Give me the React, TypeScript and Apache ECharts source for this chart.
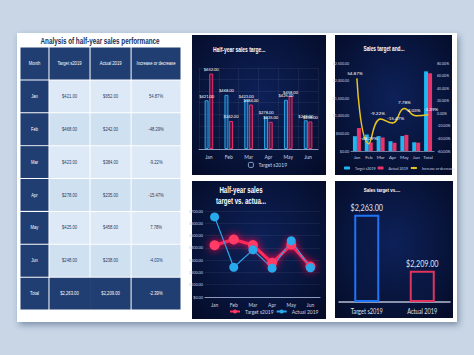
import React, { useEffect, useRef } from 'react';
import * as echarts from 'echarts';

const months = ['Jan', 'Feb', 'Mar', 'Apr', 'May', 'Jun'];
const target2019 = [421, 468, 423, 278, 425, 248];
const actual2019 = [652, 242, 384, 235, 458, 238];
const changePct = [54.87, -48.29, -9.22, -15.47, 7.78, -4.03];
const totalTarget = 2263;
const totalActual = 2209;
const totalChangePct = -2.39;
const tableHeaders = ['Month', 'Target s2019', 'Actual 2019', 'Increase or decrease'];
const totalLabel = 'Total';
const compareCategories = ['Target s2019', 'Actual 2019'];
const legendNames: Record<string, string> = {
  c1t: 'Target s2019', c1a: 'Actual 2019',
  c2t: 'Target s2019', c2a: 'Actual 2019', c2p: 'Increase or decrease',
  c3t: 'Target s2019', c3a: 'Actual 2019',
};
const titles = {
  table: 'Analysis of half-year sales performance',
  c1: 'Half-year sales targe...',
  c2: 'Sales target and...',
  c3a: 'Half-year sales',
  c3b: 'target vs. actua...',
  c4: 'Sales target vs....',
};

const ARIAL = '"Liberation Sans", Arial, sans-serif';
const CAL = 'Lato, "Open Sans", sans-serif';

const money = (v: number) =>
  '$' + v.toLocaleString('en-US', { minimumFractionDigits: 2, maximumFractionDigits: 2 });
const pct = (v: number) => v.toFixed(2) + '%';

type Cell = { text: string; dark: boolean; row: number; col: number };
const cells: Cell[] = [];
const tableRows: string[][] = [
  tableHeaders,
  ...months.map((m, i) => [m, money(target2019[i]), money(actual2019[i]), pct(changePct[i])]),
  [totalLabel, money(totalTarget), money(totalActual), pct(totalChangePct)],
];
tableRows.forEach((r, ri) =>
  r.forEach((t, ci) =>
    cells.push({ text: t, row: ri, col: ci, dark: ri === 0 || ri === tableRows.length - 1 || ci === 0 })
  )
);

const colFrac = [0.18, 0.255, 0.255, 0.31];
const colStart = [0, 0.18, 0.435, 0.69];
// label nudges (style only) for the percentage line labels
const pctLabelOffsets = [[-2, 0], [0, 0], [-3, 0], [3, 1], [0, 0], [-3, 0], [3, 0]];
const compareColors = ['#1f74f5', '#e2335f'];

function panel(x: number, y: number, w: number, h: number) {
  return {
    type: 'rect', z: -5,
    shape: { x, y, width: w, height: h },
    style: {
      fill: new echarts.graphic.RadialGradient(0.5, 0.45, 0.75, [
        { offset: 0, color: '#0d2159' },
        { offset: 1, color: '#040b26' },
      ]),
    },
  };
}

function squeezedText(text: string, x: number, y: number, size: number, scaleX: number, color: string, align = 'center', font = ARIAL) {
  return {
    type: 'text', z: 20, x, y, scaleX,
    style: { text, x: 0, y: 0, align, verticalAlign: 'middle', fill: color, fontSize: size, fontWeight: 'bold', fontFamily: font },
  };
}

export default function App() {
  const ref = useRef<HTMLDivElement>(null);
  useEffect(() => {
    if (!ref.current) return;
    const chart = echarts.init(ref.current, undefined, { renderer: 'svg' });
    const axisLabelStyle = { color: '#c9d2e6', fontSize: 5, fontFamily: CAL };
    const faint = { lineStyle: { color: 'rgba(255,255,255,0.10)', width: 0.6 } };
    const option: any = {
      animation: false,
      backgroundColor: '#c9d6e6',
      graphic: [
        {
          type: 'rect', z: -10,
          shape: { x: 17, y: 33, width: 440, height: 289 },
          style: { fill: '#ffffff', shadowBlur: 6, shadowColor: 'rgba(40,60,90,0.45)', shadowOffsetX: 2, shadowOffsetY: 3 },
        },
        panel(192, 35, 134, 140),
        panel(335, 35, 117, 140),
        panel(192, 181, 134, 138),
        panel(335, 181, 118, 137),
        squeezedText(titles.table, 100, 41, 8.2, 0.77, '#1d2b4f'),
        squeezedText(titles.c1, 213, 50, 6.5, 0.76, '#ffffff', 'left'),
        squeezedText(titles.c2, 384, 49, 6.5, 0.74, '#ffffff'),
        squeezedText(titles.c3a, 241, 190, 8.5, 0.72, '#ffffff'),
        squeezedText(titles.c3b, 241, 201, 8.5, 0.72, '#ffffff'),
        squeezedText(titles.c4, 382, 190, 6.2, 0.72, '#ffffff'),
      ],
      legend: [
        { data: [{ name: 'c1t', itemStyle: { color: 'transparent', borderColor: '#9fbfe6', borderWidth: 0.8 } }],
          left: 248, top: 162, padding: 0, itemWidth: 5, itemHeight: 5, itemGap: 4,
          formatter: (n: string) => legendNames[n], textStyle: { color: '#c9d2e6', fontSize: 5, fontFamily: CAL } },
        { data: ['c2t', 'c2a', 'c2p'], left: 344, top: 166, width: 140, padding: 0, itemWidth: 6, itemHeight: 3, itemGap: 2,
          formatter: (n: string) => legendNames[n], textStyle: { color: '#c9d2e6', fontSize: 3.6, fontFamily: CAL } },
        { data: ['c3t', 'c3a'], left: 229, top: 309, padding: 0, itemWidth: 10, itemHeight: 5, itemGap: 2,
          formatter: (n: string) => legendNames[n], textStyle: { color: '#c9d2e6', fontSize: 5, fontFamily: CAL } },
      ],
      grid: [
        { left: 20, top: 47, width: 161, height: 263 },
        { left: 199, top: 68, width: 119, height: 81 },
        { left: 351, top: 63, width: 83, height: 88 },
        { left: 205, top: 211, width: 115, height: 86 },
        { left: 339, top: 198, width: 111, height: 104 },
      ],
      xAxis: [
        { gridIndex: 0, type: 'category', data: tableHeaders, show: false },
        { gridIndex: 1, type: 'category', data: months,
          axisLine: { lineStyle: { color: '#8c9bbd', width: 1 } }, axisTick: { show: false },
          axisLabel: { ...axisLabelStyle, interval: 0, margin: 5 }, splitLine: { show: true, interval: 0, ...faint } },
        { gridIndex: 2, type: 'category', data: [...months, totalLabel],
          axisLine: { lineStyle: { color: '#8c9bbd', width: 0.8 } }, axisTick: { show: false },
          axisLabel: { ...axisLabelStyle, fontSize: 4.5, interval: 0, margin: 4 } },
        { gridIndex: 3, type: 'category', data: months,
          axisLine: { lineStyle: { color: '#8c9bbd', width: 1 } }, axisTick: { show: false },
          axisLabel: { ...axisLabelStyle, interval: 0, margin: 5 } },
        { gridIndex: 4, type: 'category', data: compareCategories,
          axisLine: { lineStyle: { color: '#b6bfd2', width: 1.5 } }, axisTick: { show: false },
          axisLabel: { show: false } },
      ],
      yAxis: [
        { gridIndex: 0, type: 'category', data: tableRows.map((r) => r[0]), inverse: true, show: false },
        { gridIndex: 1, type: 'value', min: 0, max: 700, interval: 100,
          axisLabel: { show: false }, axisLine: { show: false }, axisTick: { show: false },
          splitLine: { show: true, ...faint } },
        { gridIndex: 2, type: 'value', min: 0, max: 2500, interval: 500,
          axisLabel: { ...axisLabelStyle, fontSize: 3.6, margin: 2, formatter: money },
          axisLine: { show: false }, axisTick: { show: false }, splitLine: { show: false } },
        { gridIndex: 2, type: 'value', position: 'right', min: -60, max: 80, interval: 20,
          axisLabel: { ...axisLabelStyle, fontSize: 3.6, margin: 3, formatter: pct },
          axisLine: { show: false }, axisTick: { show: false }, splitLine: { show: false } },
        { gridIndex: 3, type: 'value', min: 0, max: 700, interval: 100,
          axisLabel: { ...axisLabelStyle, fontSize: 3.8, margin: 2, formatter: money },
          axisLine: { show: false }, axisTick: { show: false }, splitLine: { show: true, ...faint } },
        { gridIndex: 4, type: 'value', min: 2180, max: 2280, show: false },
      ],
      series: [
        {
          type: 'custom', name: 'table', xAxisIndex: 0, yAxisIndex: 0,
          data: cells.map((c) => [c.col, c.row]),
          renderItem: (params: any, api: any) => {
            const cell = cells[params.dataIndex];
            const cs = params.coordSys;
            const c = cell.col, r = cell.row;
            const center = api.coord([c, r]);
            const h = api.size([1, 1])[1];
            const x = cs.x + cs.width * colStart[c];
            const w = cs.width * colFrac[c];
            const y = center[1] - h / 2;
            const last = tableRows.length - 1;
            let gl = 0.5, gr = 0.5;
            if (r === last && c === 1) gr = 0;
            if (r === last && c === 2) gl = 0;
            const fill = cell.dark ? '#213e72' : r % 2 === 1 ? '#dde9f6' : '#cfe0f1';
            return {
              type: 'group',
              children: [
                { type: 'rect', shape: { x: x + gl, y: y + 0.5, width: w - gl - gr, height: h - 1 }, style: { fill } },
                { type: 'text', x: x + w / 2, y: center[1], scaleX: 0.8,
                  style: { text: cell.text, x: 0, y: 0, align: 'center', verticalAlign: 'middle',
                    fill: cell.dark ? '#ffffff' : '#2b3a5c', fontSize: 5.2, fontFamily: ARIAL } },
              ],
            };
          },
        },
        {
          type: 'bar', name: 'c1t', xAxisIndex: 1, yAxisIndex: 1, data: target2019, barWidth: 4, barGap: '15%',
          itemStyle: { color: 'rgba(30,110,190,0.45)', borderColor: '#2aa6e8', borderWidth: 1 },
          label: { show: true, position: 'top', distance: 2, formatter: (p: any) => money(p.value), color: '#ffffff', fontSize: 4, fontFamily: CAL },
        },
        {
          type: 'bar', name: 'c1a', xAxisIndex: 1, yAxisIndex: 1, data: actual2019, barWidth: 4,
          itemStyle: { color: 'rgba(150,20,70,0.55)', borderColor: '#e6306b', borderWidth: 1 },
          label: { show: true, position: 'top', distance: 2, formatter: (p: any) => money(p.value), color: '#ffffff', fontSize: 4, fontFamily: CAL },
        },
        {
          type: 'bar', name: 'c2t', xAxisIndex: 2, yAxisIndex: 2, data: [...target2019, totalTarget], barWidth: 4, barGap: '0%',
          itemStyle: { color: '#1fb6f2' },
        },
        {
          type: 'bar', name: 'c2a', xAxisIndex: 2, yAxisIndex: 2, data: [...actual2019, totalActual], barWidth: 4,
          itemStyle: { color: '#e8336a' },
        },
        {
          type: 'line', name: 'c2p', xAxisIndex: 2, yAxisIndex: 3,
          data: [...changePct, totalChangePct].map((v, i) => ({ value: v, label: { offset: pctLabelOffsets[i] } })),
          smooth: true, symbol: 'circle', symbolSize: 1, showSymbol: true,
          lineStyle: { color: '#e8c422', width: 1.5 }, itemStyle: { color: '#e8c422' },
          label: { show: true, position: 'top', distance: 3, formatter: (p: any) => pct(p.value), color: '#ffffff', fontSize: 4.6, fontFamily: CAL },
        },
        {
          type: 'line', name: 'c3t', xAxisIndex: 3, yAxisIndex: 4, data: target2019,
          symbol: 'circle', symbolSize: 10,
          lineStyle: { color: '#ff2f5f', width: 3, shadowColor: '#ff0a45', shadowBlur: 6 },
          itemStyle: { color: '#ff3a66', shadowColor: '#ff0a45', shadowBlur: 8 },
        },
        {
          type: 'line', name: 'c3a', xAxisIndex: 3, yAxisIndex: 4, data: actual2019,
          symbol: 'circle', symbolSize: 9,
          lineStyle: { color: '#27a9ec', width: 1.2 },
          itemStyle: { color: '#27a9ec' },
        },
        {
          type: 'custom', name: 'c4', xAxisIndex: 4, yAxisIndex: 5,
          data: [[0, totalTarget], [1, totalActual]],
          renderItem: (params: any, api: any) => {
            const i = api.value(0);
            const v = api.value(1);
            const cs = params.coordSys;
            const top = api.coord([i, v]);
            const baseY = cs.y + cs.height;
            const bw = 23;
            return {
              type: 'group',
              children: [
                { type: 'rect', shape: { x: top[0] - bw / 2, y: top[1], width: bw, height: baseY - top[1] - 1 },
                  style: { fill: 'rgba(10,25,70,0.6)', stroke: compareColors[i], lineWidth: 2 } },
                { type: 'text', x: top[0], y: top[1] - 4, scaleX: 0.72,
                  style: { text: money(v), x: 0, y: 0, align: 'center', verticalAlign: 'bottom',
                    fill: '#dfe5f2', fontSize: 10, fontFamily: CAL } },
                { type: 'text', x: top[0], y: baseY + 9, scaleX: 0.75,
                  style: { text: compareCategories[i], x: 0, y: 0, align: 'center', verticalAlign: 'middle',
                    fill: '#dde3f0', fontSize: 7.5, fontFamily: CAL } },
              ],
            };
          },
        },
      ],
    };
    chart.setOption(option);
    return () => chart.dispose();
  }, []);
  return <div ref={ref} style={{ position: 'absolute', left: 0, top: 0, width: 474, height: 355 }} />;
}
